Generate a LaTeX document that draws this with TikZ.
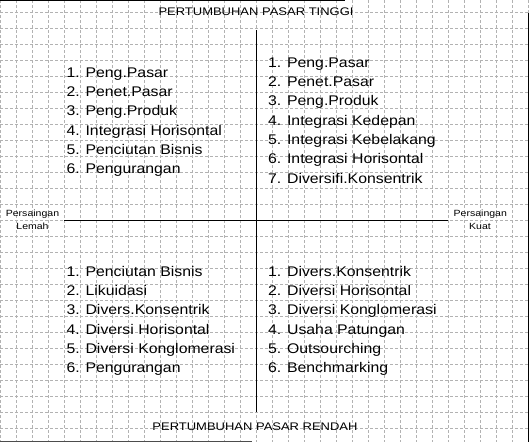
\documentclass[tikz,border=0pt]{standalone}
\usepackage{fontspec}
\setmainfont{Liberation Sans}
\tikzset{
  gridline/.style={draw=black!30, line width=0.7pt, dash pattern=on 3pt off 2pt},
  axis/.style={draw=black, line width=1.2pt},
  frameline/.style={draw=black, line width=1.5pt},
  listitem/.style={anchor=base west, inner sep=0pt, xscale=1.13, font=\fontsize{14}{16}\selectfont},
  header/.style={anchor=base, inner sep=0pt, xscale=1.18, font=\fontsize{11}{13}\selectfont},
  sidelabel/.style={anchor=base, inner sep=0pt, xscale=1.17, font=\fontsize{9}{11}\selectfont},
}
\begin{document}
\begin{tikzpicture}[x=1pt,y=-1pt]
\useasboundingbox (0,0) rectangle (529,442);
\fill[white] (0,0) rectangle (529,442);
% grid
\foreach \i [evaluate=\i as \gx using 0.5+16*\i] in {0,...,33}
  \draw[gridline] (\gx,0) -- (\gx,442);
\foreach \j [evaluate=\j as \gy using 12.5+16*\j] in {0,...,26}
  \draw[gridline] (0,\gy) -- (529,\gy);
% page edges
\draw[frameline] (0,0.5) -- (345,0.5);
\draw[frameline] (528.3,13) -- (528.3,442);
\draw[draw=black!70, line width=1.5pt] (0,441.3) -- (252,441.3);
% axes
\coordinate (vtop) at (256.5,30);
\coordinate (vbot) at (256.5,412);
\coordinate (hleft) at (64,220.5);
\coordinate (hright) at (448,220.5);
\draw[axis] (vtop) -- (vbot);
\draw[axis] (hleft) -- (hright);
% headers
\node[header] (ttop) at (256,15.3) {PERTUMBUHAN PASAR TINGGI};
\node[header] (tbot) at (255,430.3) {PERTUMBUHAN PASAR RENDAH};
\node[sidelabel] (lw1) at (32.5,216.8) {Persaingan};
\node[sidelabel] (lw2) at (32.5,229.2) {Lemah};
\node[sidelabel] (ks1) at (480.3,216.8) {Persaingan};
\node[sidelabel] (ks2) at (480,229.2) {Kuat};
% top-left
\foreach \t [count=\k] in {1. Peng.Pasar, 2. Penet.Pasar, 3. Peng.Produk, 4. Integrasi Horisontal, 5. Penciutan Bisnis, 6. Pengurangan}
  \node[listitem] (tl\k) at (66.3,77.3+19.3*\k-19.3) {\t};
% top-right
\foreach \t [count=\k] in {1. Peng.Pasar, 2. Penet.Pasar, 3. Peng.Produk, 4. Integrasi Kedepan, 5. Integrasi Kebelakang, 6. Integrasi Horisontal, 7. Diversifi.Konsentrik}
  \node[listitem] (tr\k) at (267.8,67.3+19.3*\k-19.3) {\t};
% bottom-left
\foreach \t [count=\k] in {1. Penciutan Bisnis, 2. Likuidasi, 3. Divers.Konsentrik, 4. Diversi Horisontal, 5. Diversi Konglomerasi, 6. Pengurangan}
  \node[listitem] (bl\k) at (66.3,276.3+19.3*\k-19.3) {\t};
% bottom-right
\foreach \t [count=\k] in {1. Divers.Konsentrik, 2. Diversi Horisontal, 3. Diversi Konglomerasi, 4. Usaha Patungan, 5. Outsourching, 6. Benchmarking}
  \node[listitem] (br\k) at (267.8,276.3+19.3*\k-19.3) {\t};
\end{tikzpicture}
\end{document}
